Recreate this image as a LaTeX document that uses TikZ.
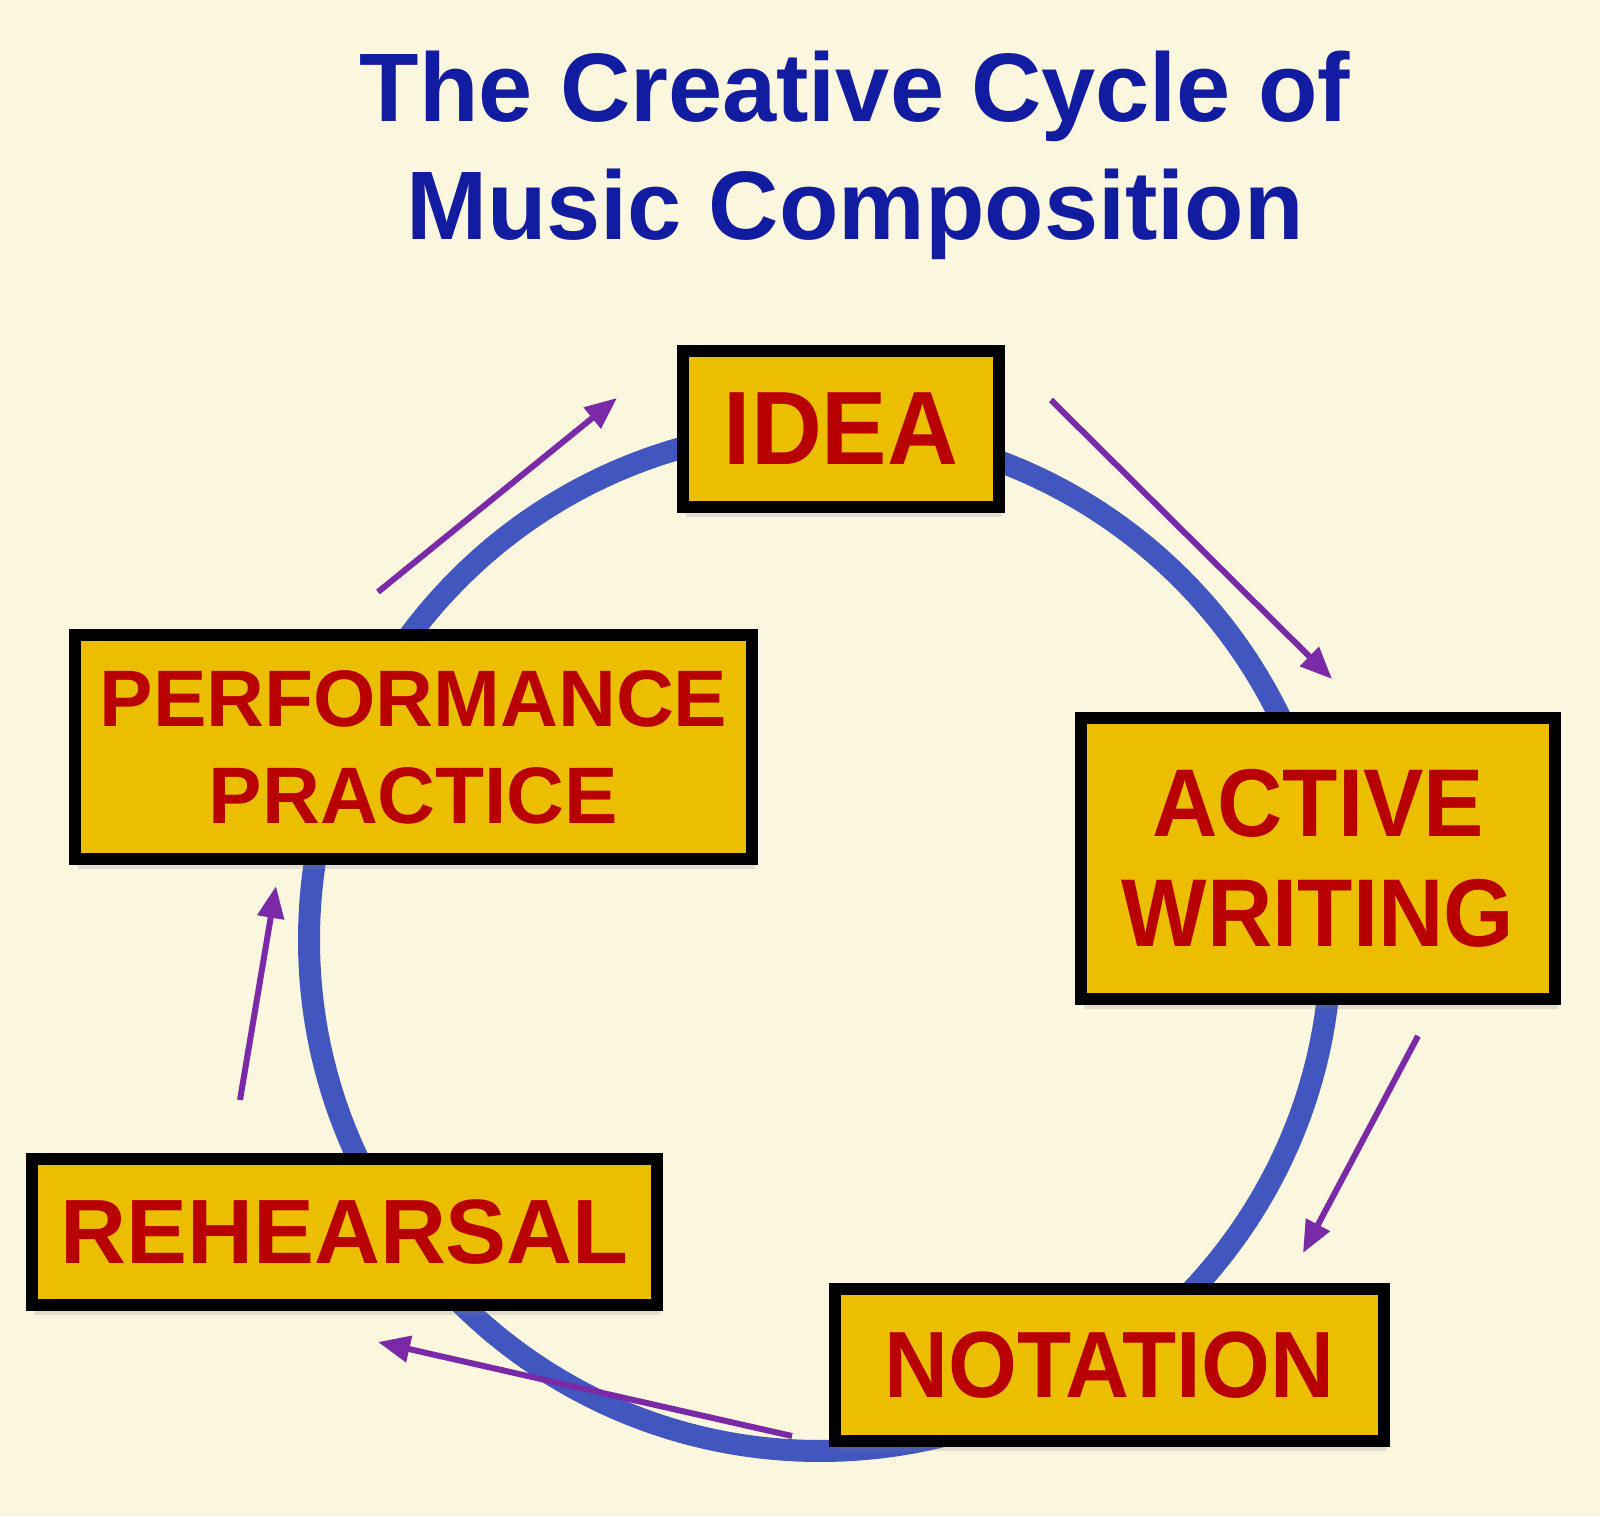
\documentclass[tikz,border=0pt]{standalone}
\usepackage{fontspec}
\setmainfont{Liberation Sans}
\newfontfamily\stagefont[FakeStretch=0.94]{Liberation Sans}
\usetikzlibrary{arrows.meta,shadows}
\definecolor{bgcream}{RGB}{251,246,222}
\definecolor{titleblue}{RGB}{18,28,160}
\definecolor{boxgold}{RGB}{236,190,0}
\definecolor{textred}{RGB}{184,0,0}
\definecolor{ringblue}{RGB}{66,86,192}
\definecolor{arrowpurple}{RGB}{122,42,166}

\begin{document}
\begin{tikzpicture}[
    stagebox/.style={rectangle, line width=0.12cm, draw=black, fill=boxgold, text=textred, align=center, inner sep=0pt,
        drop shadow={opacity=0.2, shadow xshift=0.03cm, shadow yshift=-0.1cm}},
    cyclearrow/.style={-{Triangle[length=0.32cm, width=0.26cm]}, line width=0.06cm, draw=arrowpurple, fill=arrowpurple},
    titletext/.style={text=titleblue, anchor=base, inner sep=0pt, font=\bfseries\fontsize{27.7}{33}\selectfont}
]
    \fill[bgcream] (0,0) rectangle (16,15.16);

    \node[titletext] (title1) at (8.55,13.94) {The Creative Cycle of};
    \node[titletext] (title2) at (8.55,12.76) {Music Composition};

    \draw[ringblue, line width=0.22cm] (8.20,5.76) circle (5.11);

    \node[stagebox, minimum width=3.16cm, minimum height=1.56cm, font=\stagefont\bfseries\fontsize{29.7}{34}\selectfont] (idea) at (8.41,10.87) {IDEA};
    \node[stagebox, minimum width=4.74cm, minimum height=2.81cm, font=\stagefont\bfseries\fontsize{27.4}{31.3}\selectfont] (writing) at (13.18,6.575) {ACTIVE\\WRITING};
    \node[stagebox, minimum width=5.49cm, minimum height=1.52cm, font=\stagefont\bfseries\fontsize{26.8}{30}\selectfont] (notation) at (11.095,1.51) {NOTATION};
    \node[stagebox, minimum width=6.25cm, minimum height=1.46cm, font=\bfseries\fontsize{26}{30}\selectfont] (rehearsal) at (3.445,2.84) {REHEARSAL};
    \node[stagebox, minimum width=6.77cm, minimum height=2.24cm, font=\bfseries\fontsize{22.8}{27.6}\selectfont] (performance) at (4.135,7.69) {PERFORMANCE\\PRACTICE};

    \coordinate (idea out) at (10.51,11.16);
    \coordinate (writing in) at (13.32,8.37);
    \coordinate (writing out) at (14.18,4.80);
    \coordinate (notation in) at (13.03,2.63);
    \coordinate (notation out) at (7.92,0.80);
    \coordinate (rehearsal in) at (3.78,1.74);
    \coordinate (rehearsal out) at (2.40,4.16);
    \coordinate (performance in) at (2.76,6.30);
    \coordinate (performance out) at (3.78,9.24);
    \coordinate (idea in) at (6.17,11.18);

    \draw[cyclearrow] (idea out) -- (writing in);
    \draw[cyclearrow] (writing out) -- (notation in);
    \draw[cyclearrow] (notation out) -- (rehearsal in);
    \draw[cyclearrow] (rehearsal out) -- (performance in);
    \draw[cyclearrow] (performance out) -- (idea in);
\end{tikzpicture}
\end{document}
